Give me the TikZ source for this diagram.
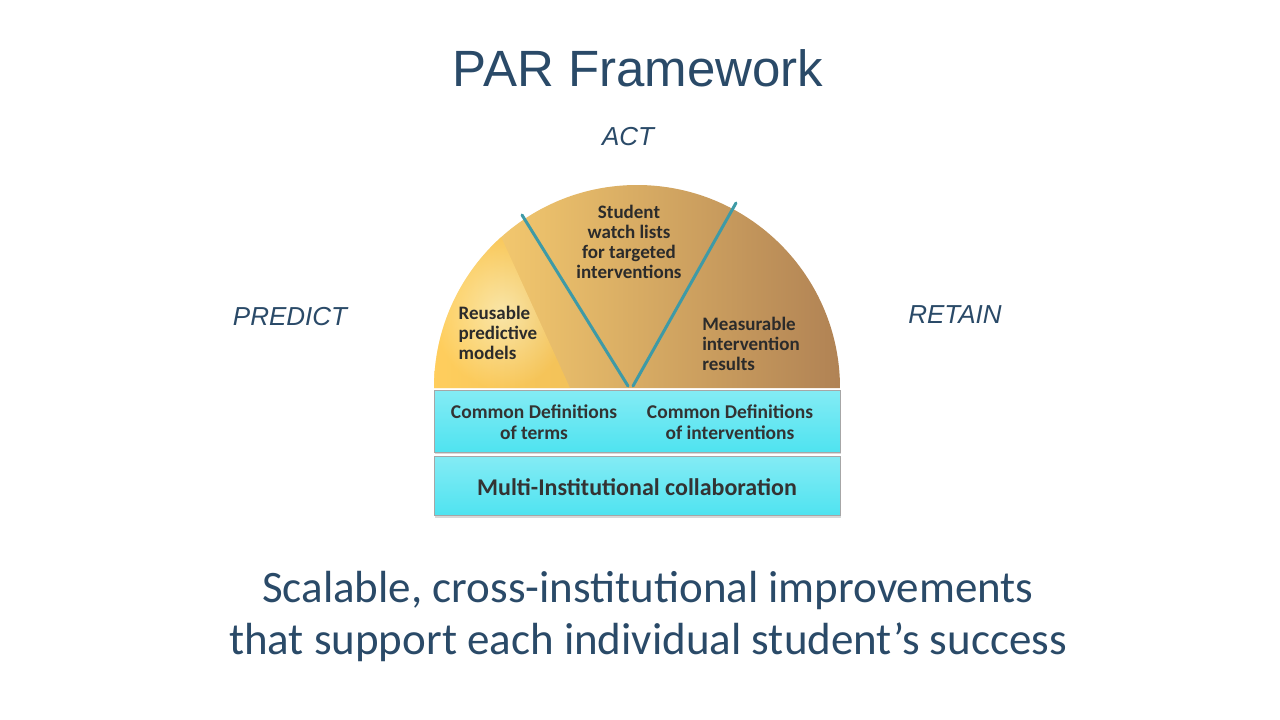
\documentclass[tikz,border=0pt]{standalone}
\usepackage{fontspec}
\setmainfont{Carlito}
\newfontfamily\arial{Liberation Sans}
\usetikzlibrary{shadows}
\definecolor{titleblue}{HTML}{2A4A68}
\definecolor{txt}{HTML}{333333}
\definecolor{teal1}{HTML}{3E9AA6}
\definecolor{cyanbox}{HTML}{4FE3F0}
\tikzset{
  lab/.style={font=\arial\itshape\fontsize{26}{30}\selectfont, text=titleblue},
  inner/.style={font=\bfseries\fontsize{19}{23}\selectfont, text=txt!85!black, align=center},
  boxtext/.style={font=\bfseries\fontsize{19.5}{23}\selectfont, text=txt, align=center},
  cbox/.style={draw=gray!70, fill=cyanbox, top color=cyanbox!70!white, bottom color=cyanbox, drop shadow={opacity=0.3, shadow xshift=1pt, shadow yshift=-2pt}},
  vline/.style={draw=teal1, line width=3pt, line cap=round}
}
\begin{document}
\begin{tikzpicture}[x=1pt,y=-1pt]
\useasboundingbox (0,0) rectangle (1280,720);
\fill[white] (0,0) rectangle (1280,720);
\node[font=\arial\fontsize{51}{56}\selectfont, text=titleblue] (title) at (638,68) {PAR Framework};
\node[lab] (act) at (628,137) {ACT};
\node[lab] (predict) at (290,317) {PREDICT};
\node[lab] (retain) at (955,315) {RETAIN};
% semicircle
\shade[left color=yellow!40!orange!55!white, middle color=orange!75!brown!90, right color=brown!85!black!85, shading angle=90]
  (434,388) arc[start angle=180, end angle=360, radius=203] -- cycle;
\shade[inner color=yellow!15!white, outer color=orange!60!yellow!70, opacity=0.55]
  (434,388) arc[start angle=180, end angle=228, radius=203] -- (570,388) -- cycle;
\coordinate (v1a) at (522,215);
\coordinate (v1b) at (628,386);
\coordinate (v2a) at (736,203);
\coordinate (v2b) at (633,386);
\draw[vline] (v1a) -- (v1b);
\draw[vline] (v2a) -- (v2b);
\node[inner] (t1) at (629,242) {Student\\[-3pt]watch lists\\[-3pt]for targeted\\[-3pt]interventions};
\node[inner, align=left] (t2) at (498,333) {Reusable\\[-3pt]predictive\\[-3pt]models};
\node[inner, align=left] (t3) at (751,344) {Measurable\\[-3pt]intervention\\[-3pt]results};
\node[cbox, minimum width=406pt, minimum height=62pt, inner sep=0pt] (b1) at (637,421) {};
\node[boxtext] (b1l) at (534,422) {Common Definitions\\[-2pt]of terms};
\node[boxtext] (b1r) at (730,422) {Common Definitions\\[-2pt]of interventions};
\node[cbox, minimum width=406pt, minimum height=59pt, inner sep=0pt] (b2) at (637,486) {};
\node[font=\bfseries\fontsize{24}{28}\selectfont, text=txt] (b2t) at (637,487) {Multi-Institutional collaboration};
\node[font=\fontsize{45}{52}\selectfont, text=titleblue, align=center] (bottom) at (648,616) {Scalable, cross-institutional improvements\\that support each individual student’s success};
\end{tikzpicture}
\end{document}
